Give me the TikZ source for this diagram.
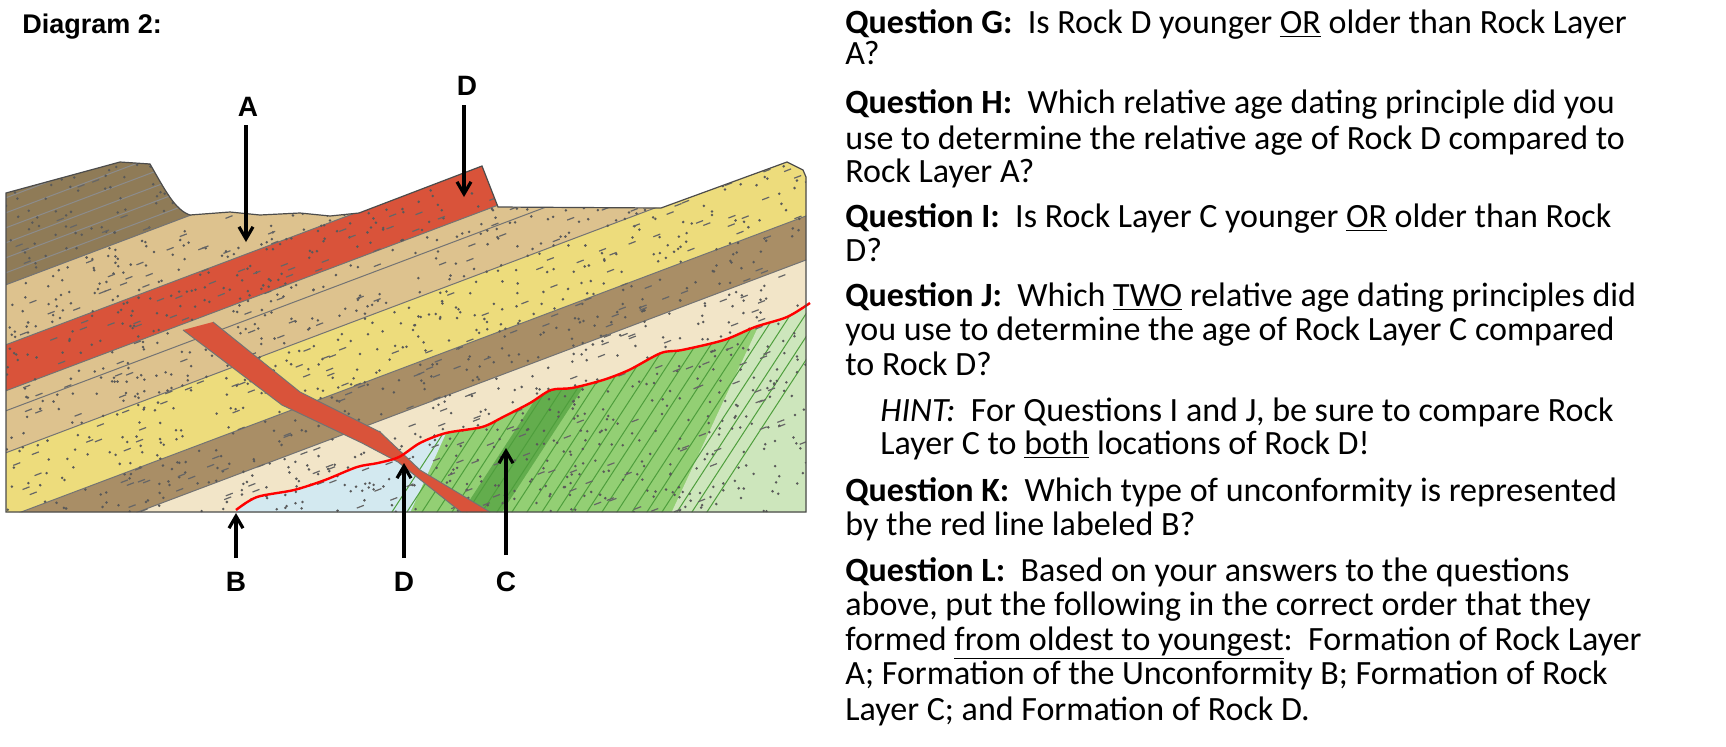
\documentclass[tikz,border=0pt]{standalone}
\usepackage{fontspec}
\setmainfont{Carlito}
\newfontfamily\arialf{Liberation Sans}
\usetikzlibrary{arrows.meta}
\definecolor{tanc}{HTML}{DDC28E}
\definecolor{dbrown}{HTML}{8F7B57}
\definecolor{redc}{HTML}{D9533A}
\definecolor{yel}{HTML}{EDDC7C}
\definecolor{brn}{HTML}{A98E66}
\definecolor{sand}{HTML}{F2E5C8}
\definecolor{lblue}{HTML}{D3E9F0}
\definecolor{grn}{HTML}{93CF74}
\definecolor{dgrn}{HTML}{4E9E3C}
\definecolor{pgrn}{HTML}{CDE6BC}
\tikzset{
 q/.style={anchor=base west,inner sep=0pt,font=\fontsize{17}{19}\selectfont},
 lab/.style={font=\arialf\bfseries\fontsize{14}{15}\selectfont,inner sep=1pt},
 arr/.style={-{Straight Barb[length=6pt,width=7pt]},line width=1.6pt},
 edge/.style={draw=black!70,line width=0.6pt}
}
\newcommand{\strip}[3]{\fill[#1] (0,#2) -- (812,{#2-0.38*806}) -- (812,{#3-0.38*806}) -- (0,#3) -- cycle;}
\begin{document}
\begin{tikzpicture}[x=0.5pt,y=-0.5pt]
\useasboundingbox[fill=white] (0,0) rectangle (1726,746);
\node[anchor=base west,inner sep=0pt,font=\arialf\bfseries\fontsize{13.5}{15}\selectfont] (title) at (22,33) {Diagram 2:};
\def\outline{(6,193) -- (120,162) -- (150,164) .. controls (165,190) and (175,210) .. (190,215) -- (230,212) -- (260,215) -- (300,213) -- (330,216) -- (359,213) -- (482,166) -- (498,207) -- (661,208) -- (787,162) -- (803,170) -- (806,177) -- (806,512) -- (6,512) -- cycle}
\begin{scope}
\clip \outline;
\fill[sand] (0,150) rectangle (820,520);
\strip{brn}{520}{564}
\strip{yel}{455}{520}
\fill[yel] (640,230) -- (790,150) -- (812,160) -- (812,190) -- cycle;
\strip{tanc}{287}{455}
\strip{dbrown}{100}{287}
\strip{redc}{347}{393}
\foreach \c in {287,347,393,413,455,520,564}{\draw[black!55,line width=0.5pt] (0,\c) -- (812,{\c-0.38*806});}
\foreach \c in {200,215,230,245,260,275}{\draw[black!45,line width=0.5pt] (0,\c) -- (812,{\c-0.38*806});}
\begin{scope}
\clip plot[smooth] coordinates {(236,510) (257,497) (294,490) (325,480) (357,467) (378,463) (399,457) (420,443) (446,433) (482,427) (503,417) (530,403) (551,390) (572,388) (603,380) (629,370) (661,353) (682,350) (724,340) (755,327) (787,317) (812,301)} -- (812,515) -- (236,515) -- cycle;
\fill[grn] (200,280) rectangle (820,520);
\fill[lblue] (200,380) -- (452,420) -- (409,515) -- (200,515) -- cycle;
\fill[pgrn] (780,280) -- (830,280) -- (830,520) -- (668,520) -- cycle;
\fill[dgrn!70!grn] (600,300) -- (640,300) -- (500,515) -- (460,515) -- cycle;
\foreach \x in {470,485,...,790}{\draw[dgrn,line width=0.5pt] (\x+60,300) -- (\x-80,515);}
\end{scope}
\pgfmathsetseed{7}
\foreach \i in {1,...,1300}{\fill[black!65] ({6+800*rnd},{160+352*rnd}) circle (1.4);}
\foreach \i in {1,...,350}{\draw[black!60,line width=0.6pt] ({6+800*rnd},{160+352*rnd}) coordinate (p) -- ++(7,-2.7);}
\fill[redc] (183,330) -- (213,322) -- (300,392) -- (380,432) -- (420,470) -- (490,512) -- (461,512) -- (398,462) -- (362,443) -- (282,405) -- cycle;
\draw[black!55,line width=0.5pt] (183,330) -- (282,405) -- (362,443) -- (398,462) -- (461,512);
\draw[black!55,line width=0.5pt] (213,322) -- (300,392) -- (380,432) -- (420,470) -- (490,512);
\end{scope}
\draw[red,line width=1.2pt] plot[smooth] coordinates {(236,510) (257,497) (294,490) (325,480) (357,467) (378,463) (399,457) (420,443) (446,433) (482,427) (503,417) (530,403) (551,390) (572,388) (603,380) (629,370) (661,353) (682,350) (724,340) (755,327) (787,317) (810,303)};
\draw[edge] \outline;
\node[lab] (lA) at (248,107) {A};
\node[lab] (lD1) at (467,86) {D};
\node[lab] (lB) at (236,582) {B};
\node[lab] (lD2) at (404,582) {D};
\node[lab] (lC) at (506,582) {C};
\coordinate (tA) at (246,242);
\coordinate (tD1) at (464,197);
\coordinate (tB) at (236,513);
\coordinate (tD2) at (404,463);
\coordinate (tC) at (506,448);
\draw[arr] (246,125) -- (tA);
\draw[arr] (464,105) -- (tD1);
\draw[arr] (236,558) -- (tB);
\draw[arr] (404,558) -- (tD2);
\draw[arr] (506,555) -- (tC);
\node[q] (q1) at (845,33) {\textbf{Question G:}\ \ Is Rock D younger \underline{OR} older than Rock Layer};
\node[q] (q2) at (845,64) {A?};
\node[q] (q3) at (845,113) {\textbf{Question H:}\ \ Which relative age dating principle did you};
\node[q] (q4) at (845,149) {use to determine the relative age of Rock D compared to};
\node[q] (q5) at (845,182) {Rock Layer A?};
\node[q] (q6) at (845,227) {\textbf{Question I:}\ \ Is Rock Layer C younger \underline{OR} older than Rock};
\node[q] (q7) at (845,261) {D?};
\node[q] (q8) at (845,306) {\textbf{Question J:}\ \ Which \underline{TWO} relative age dating principles did};
\node[q] (q9) at (845,340) {you use to determine the age of Rock Layer C compared};
\node[q] (q10) at (845,375) {to Rock D?};
\node[q] (q11) at (880,421) {\textit{HINT:}\ \ For Questions I and J, be sure to compare Rock};
\node[q] (q12) at (880,454) {Layer C to \underline{both} locations of Rock D!};
\node[q] (q13) at (845,501) {\textbf{Question K:}\ \ Which type of unconformity is represented};
\node[q] (q14) at (845,535) {by the red line labeled B?};
\node[q] (q15) at (845,581) {\textbf{Question L:}\ \ Based on your answers to the questions};
\node[q] (q16) at (845,615) {above, put the following in the correct order that they};
\node[q] (q17) at (845,650) {formed \underline{from oldest to youngest}:\ \ Formation of Rock Layer};
\node[q] (q18) at (845,684) {A; Formation of the Unconformity B; Formation of Rock};
\node[q] (q19) at (845,720) {Layer C; and Formation of Rock D.};
\end{tikzpicture}
\end{document}
